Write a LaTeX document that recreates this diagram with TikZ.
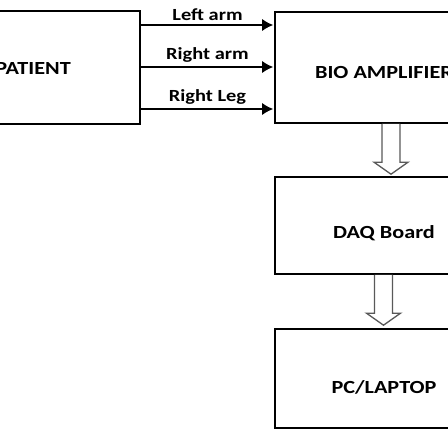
\documentclass[tikz,border=0pt]{standalone}
\usepackage{fontspec}
\setmainfont{Carlito}[FakeStretch=1.2]
\usepackage{tikz}
\usetikzlibrary{arrows.meta, positioning, calc}
\tikzset{
  block/.style={draw, line width=1.6pt, fill=white, inner sep=0pt},
  tag/.style={font=\bfseries\fontsize{18.5}{20}\selectfont, inner sep=0pt},
  wire/.style={font=\bfseries\fontsize{17}{19}\selectfont, inner sep=0pt},
  link/.style={-{Latex[length=11pt, width=12pt]}, line width=1.2pt, shorten >=1pt},
  hollow/.style={draw=gray!70!black, line width=1.3pt, fill=white, line join=miter}
}
\newcommand{\bigdown}[2]{%
  \draw[hollow] ($(#1)+(-9pt,0)$) -- ($(#2)+(-9pt,12pt)$) -- ($(#2)+(-17pt,12pt)$)
    -- (#2) -- ($(#2)+(17pt,12pt)$) -- ($(#2)+(9pt,12pt)$) -- ($(#1)+(9pt,0)$);
}

\begin{document}
\begin{tikzpicture}[x=1pt, y=-1pt]
        \useasboundingbox (0,0) rectangle (448,448);
        \clip (0,0) rectangle (448,448);

        % Boxes
        \node[block, minimum width=214pt, minimum height=113pt] (pat) at (33,67.5) {};
        \node[block, minimum width=218pt, minimum height=111pt] (bio) at (384,67.5) {};
        \node[block, minimum width=218pt, minimum height=97pt]  (daq) at (384,225.5) {};
        \node[block, minimum width=218pt, minimum height=99pt]  (pc)  at (384,378.5) {};

        % Box texts
        \node[tag, anchor=east] (patt) at (71,68) {PATIENT};
        \node[tag] (biot) at (384,72) {BIO AMPLIFIER};
        \node[tag] (daqt) at (384,233) {DAQ Board};
        \node[tag] (pct)  at (384,387) {PC/LAPTOP};

        % Leads
        \draw[link] ([yshift=42.5pt]pat.east) -- ([yshift=42.5pt]bio.west)
          node[wire, midway, above=4pt] (la) {Left arm};
        \draw[link] ([yshift=0.5pt]pat.east) -- ([yshift=0.5pt]bio.west)
          node[wire, midway, above=4pt] (ra) {Right arm};
        \draw[link] ([yshift=-41.5pt]pat.east) -- ([yshift=-41.5pt]bio.west)
          node[wire, midway, above=4pt] (rl) {Right Leg};

        % Data flow
        \coordinate (up1) at ([xshift=7pt]bio.south);
        \coordinate (dn1) at ([xshift=7pt, yshift=2pt]daq.north);
        \coordinate (up2) at ([xshift=-0.5pt]daq.south);
        \coordinate (dn2) at ([xshift=-0.5pt, yshift=3pt]pc.north);
        \bigdown{up1}{dn1}
        \bigdown{up2}{dn2}
    \end{tikzpicture}
\end{document}
